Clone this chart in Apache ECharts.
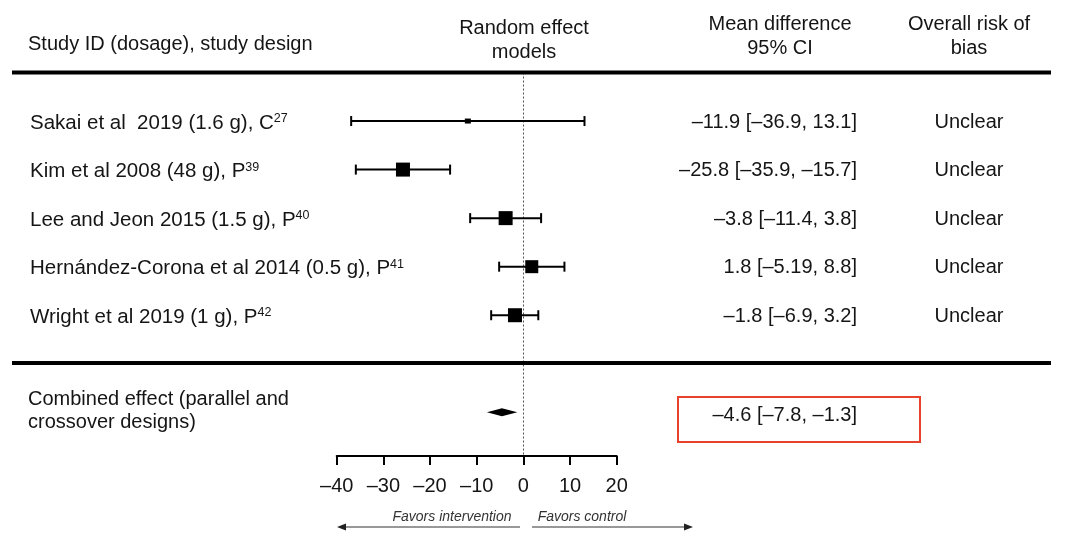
<!DOCTYPE html>
<html>
<head>
<meta charset="utf-8">
<script src="https://cdn.jsdelivr.net/npm/echarts@6/dist/echarts.min.js"></script>
<style>
    html, body {margin: 0; padding: 0; background: #fff;}
    #main {width: 1080px; height: 543px;}
</style>
</head>
<body>
<div id="main"></div>
<script>
// studies, top to bottom
var studyNames = ['Sakai et al  2019 (1.6 g), C', 'Kim et al 2008 (48 g), P', 'Lee and Jeon 2015 (1.5 g), P',
    'Hernández-Corona et al 2014 (0.5 g), P', 'Wright et al 2019 (1 g), P'];
var studyRefs = ['27', '39', '40', '41', '42'];
var meanDiff = [-11.9, -25.8, -3.8, 1.8, -1.8];
var ciLow = [-36.9, -35.9, -11.4, -5.19, -6.9];
var ciHigh = [13.1, -15.7, 3.8, 8.8, 3.2];
var ciText = ['–11.9 [–36.9, 13.1]', '–25.8 [–35.9, –15.7]', '–3.8 [–11.4, 3.8]', '1.8 [–5.19, 8.8]', '–1.8 [–6.9, 3.2]'];
var riskOfBias = ['Unclear', 'Unclear', 'Unclear', 'Unclear', 'Unclear'];

// pooled estimate
var pooledLabel = ['Combined effect (parallel and', 'crossover designs)'];
var pooledMean = -4.6, pooledLow = -7.8, pooledHigh = -1.3;
var pooledText = '–4.6 [–7.8, –1.3]';

var xTicks = [-40, -30, -20, -10, 0, 10, 20];

// marker box size per row (px)
var boxSize = [6, 14, 14, 13, 14];

var FONT = "'Liberation Sans', Arial, sans-serif";
var INK = '#151515';

function dash(v) {
    return v < 0 ? '–' + Math.abs(v) : String(v);
}

var studyData = meanDiff.map(function (m, i) {
    return [m, ciLow[i], ciHigh[i], i + 1];
});

function renderStudy(params, api) {
    var i = params.dataIndex;
    var row = api.value(3);
    var pm = api.coord([api.value(0), row]);
    var pl = api.coord([api.value(1), row]);
    var ph = api.coord([api.value(2), row]);
    var y = pm[1];
    var s = boxSize[i];
    var line = {stroke: '#000', lineWidth: 2};
    return {
        type: 'group',
        children: [
            {type: 'line', shape: {x1: pl[0], y1: y, x2: ph[0], y2: y}, style: line},
            {type: 'line', shape: {x1: pl[0], y1: y - 5, x2: pl[0], y2: y + 5}, style: line},
            {type: 'line', shape: {x1: ph[0], y1: y - 5, x2: ph[0], y2: y + 5}, style: line},
            {type: 'rect', shape: {x: pm[0] - s / 2, y: y - (i === 0 ? 2.5 : s / 2), width: s, height: i === 0 ? 5 : s},
                style: {fill: '#000'}},
            {
                type: 'text', x: 30, y: y + 2,
                style: {
                    text: '{n|' + studyNames[i] + '}{s|' + studyRefs[i] + '}',
                    align: 'left', verticalAlign: 'middle',
                    rich: {
                        n: {fontSize: 20.5, fontFamily: FONT, fill: INK, lineHeight: 22},
                        s: {fontSize: 12.5, fontFamily: FONT, fill: INK, verticalAlign: 'top', lineHeight: 22}
                    }
                }
            },
            {
                type: 'text', x: 857, y: y + 1,
                style: {text: ciText[i], align: 'right', verticalAlign: 'middle', fontSize: 20, fontFamily: FONT, fill: INK}
            },
            {
                type: 'text', x: 969, y: y + 1,
                style: {text: riskOfBias[i], align: 'center', verticalAlign: 'middle', fontSize: 20, fontFamily: FONT, fill: INK}
            }
        ]
    };
}

function renderPooled(params, api) {
    var row = api.value(3);
    var pm = api.coord([api.value(0), row]);
    var pl = api.coord([api.value(1), row]);
    var ph = api.coord([api.value(2), row]);
    var y = pm[1];
    return {
        type: 'group',
        children: [
            {type: 'polygon', shape: {points: [[pl[0], y], [pm[0], y - 4], [ph[0], y], [pm[0], y + 4]]},
                style: {fill: '#000'}},
            {
                type: 'text', x: 28, y: y - 1,
                style: {text: pooledLabel.join('\n'), align: 'left', verticalAlign: 'middle',
                    fontSize: 20, lineHeight: 23, fontFamily: FONT, fill: INK}
            },
            {
                type: 'text', x: 857, y: y + 3,
                style: {text: pooledText, align: 'right', verticalAlign: 'middle', fontSize: 20, fontFamily: FONT, fill: INK}
            }
        ]
    };
}

function headerText(x, y, text, align) {
    return {
        type: 'text', x: x, y: y, silent: true,
        style: {text: text, align: align || 'center', verticalAlign: 'middle', fontSize: 20, fontFamily: FONT, fill: INK}
    };
}

var chart = echarts.init(document.getElementById('main'));
chart.setOption({
    animation: false,
    backgroundColor: '#fff',
    grid: {left: 336.7, right: 463.3, top: 72.5, bottom: 87},
    xAxis: {
        type: 'value',
        min: xTicks[0],
        max: xTicks[xTicks.length - 1],
        interval: 10,
        position: 'bottom',
        axisLine: {onZero: false, lineStyle: {color: '#000', width: 2}},
        axisTick: {length: 9, lineStyle: {color: '#000', width: 2}},
        splitLine: {show: false},
        axisLabel: {
            margin: 20, fontSize: 20, fontFamily: FONT, color: INK,
            formatter: function (v) { return dash(v); }
        }
    },
    yAxis: {type: 'value', inverse: true, min: 0, max: 7.9, show: false},
    graphic: [
        headerText(28, 44, 'Study ID (dosage), study design', 'left'),
        headerText(524, 28, 'Random effect'),
        headerText(524, 52, 'models'),
        headerText(780, 24, 'Mean difference'),
        headerText(780, 48, '95% CI'),
        headerText(969, 24, 'Overall risk of'),
        headerText(969, 48, 'bias'),
        {type: 'line', shape: {x1: 12, y1: 72.5, x2: 1051, y2: 72.5}, style: {stroke: '#000', lineWidth: 4}, z: 10},
        {type: 'line', shape: {x1: 12, y1: 363, x2: 1051, y2: 363}, style: {stroke: '#000', lineWidth: 4}, z: 10},
        {type: 'rect', shape: {x: 678, y: 397, width: 242, height: 45}, style: {fill: 'none', stroke: '#e8412c', lineWidth: 2}},
        {type: 'line', shape: {x1: 344, y1: 527, x2: 520, y2: 527}, style: {stroke: '#333', lineWidth: 1}},
        {type: 'polygon', shape: {points: [[337, 527], [346, 523.5], [346, 530.5]]}, style: {fill: '#222'}},
        {type: 'line', shape: {x1: 532, y1: 527, x2: 686, y2: 527}, style: {stroke: '#333', lineWidth: 1}},
        {type: 'polygon', shape: {points: [[693, 527], [684, 523.5], [684, 530.5]]}, style: {fill: '#222'}},
        {type: 'text', x: 452, y: 517, style: {text: 'Favors intervention', align: 'center', verticalAlign: 'middle',
            fontSize: 14, fontStyle: 'italic', fontFamily: FONT, fill: '#333'}},
        {type: 'text', x: 582, y: 517, style: {text: 'Favors control', align: 'center', verticalAlign: 'middle',
            fontSize: 14, fontStyle: 'italic', fontFamily: FONT, fill: '#333'}}
    ],
    series: [
        {
            type: 'scatter',
            data: [],
            markLine: {
                silent: true,
                symbol: 'none',
                label: {show: false},
                lineStyle: {type: [2, 2], color: '#555', width: 1},
                data: [{xAxis: 0}]
            }
        },
        {
            type: 'custom',
            renderItem: renderStudy,
            data: studyData,
            z: 5
        },
        {
            type: 'custom',
            renderItem: renderPooled,
            data: [[pooledMean, pooledLow, pooledHigh, 7]],
            z: 5
        }
    ]
});
</script>
</body>
</html>
